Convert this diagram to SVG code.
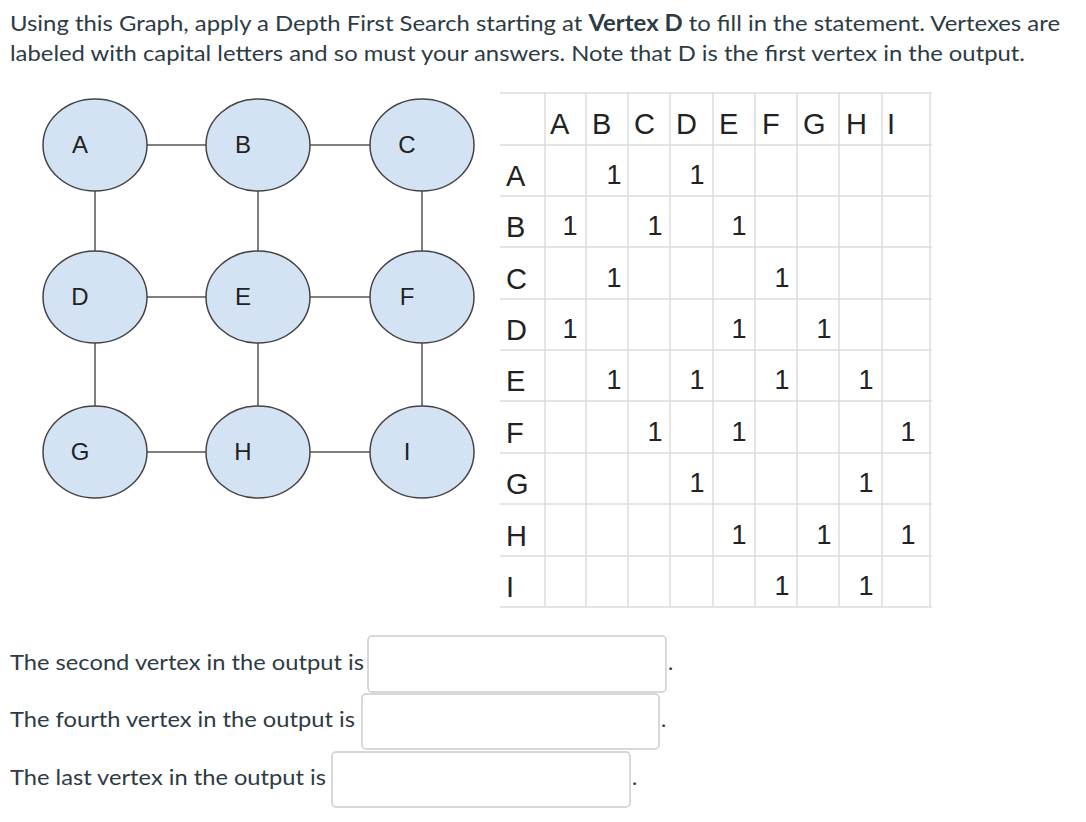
<svg xmlns="http://www.w3.org/2000/svg" width="1086" height="822" viewBox="0 0 1086 822">
<style>
.t{font-family:Lato,"Open Sans",sans-serif;font-size:22px;fill:#2d3b45}
.n ellipse{fill:#d4e3f4;stroke:#444;stroke-width:1.5}
.nl{font-family:"Liberation Sans",Arial,sans-serif;font-size:24px;fill:#222;text-anchor:middle}
.g{stroke:#ddd;stroke-width:1.5}
.h{font-family:"Liberation Sans",Arial,sans-serif;font-size:29px;fill:#222}
.c{font-family:"Liberation Sans",Arial,sans-serif;font-size:27px;fill:#222;text-anchor:middle}
.box{fill:#fff;stroke:#c7cdd1;stroke-width:1.5}
</style>
<rect width="1086" height="822" fill="#fff"/>
<text class="t" x="10" y="31" textLength="1050" lengthAdjust="spacingAndGlyphs">Using this Graph, apply a Depth First Search starting at <tspan font-weight="bold">Vertex D</tspan> to fill in the statement. Vertexes are</text>
<text class="t" x="10" y="61" textLength="1015" lengthAdjust="spacingAndGlyphs">labeled with capital letters and so must your answers. Note that D is the first vertex in the output.</text>
<g id="connectors" stroke="#555" stroke-width="1.5">
<line x1="95" y1="145" x2="422" y2="145"/><line x1="95" y1="297" x2="422" y2="297"/><line x1="95" y1="452" x2="422" y2="452"/>
<line x1="95" y1="145" x2="95" y2="452"/><line x1="258" y1="145" x2="258" y2="452"/><line x1="422" y1="145" x2="422" y2="452"/>
</g>
<g id="A" class="n"><ellipse cx="95" cy="145" rx="52" ry="46"/><text class="nl" x="80" y="153">A</text></g>
<g id="B" class="n"><ellipse cx="258" cy="145" rx="52" ry="46"/><text class="nl" x="243" y="153">B</text></g>
<g id="C" class="n"><ellipse cx="422" cy="145" rx="52" ry="46"/><text class="nl" x="407" y="153">C</text></g>
<g id="D" class="n"><ellipse cx="95" cy="297" rx="52" ry="46"/><text class="nl" x="80" y="305">D</text></g>
<g id="E" class="n"><ellipse cx="258" cy="297" rx="52" ry="46"/><text class="nl" x="243" y="305">E</text></g>
<g id="F" class="n"><ellipse cx="422" cy="297" rx="52" ry="46"/><text class="nl" x="407" y="305">F</text></g>
<g id="G" class="n"><ellipse cx="95" cy="452" rx="52" ry="46"/><text class="nl" x="80" y="460">G</text></g>
<g id="H" class="n"><ellipse cx="258" cy="452" rx="52" ry="46"/><text class="nl" x="243" y="460">H</text></g>
<g id="I" class="n"><ellipse cx="422" cy="452" rx="52" ry="46"/><text class="nl" x="407" y="460">I</text></g>
<g id="table">
<g class="g">
<line x1="500" y1="93" x2="932" y2="93"/><line x1="500" y1="145" x2="932" y2="145"/><line x1="500" y1="196" x2="932" y2="196"/><line x1="500" y1="247" x2="932" y2="247"/><line x1="500" y1="299" x2="932" y2="299"/><line x1="500" y1="350" x2="932" y2="350"/><line x1="500" y1="401" x2="932" y2="401"/><line x1="500" y1="453" x2="932" y2="453"/><line x1="500" y1="504" x2="932" y2="504"/><line x1="500" y1="556" x2="932" y2="556"/><line x1="500" y1="607" x2="932" y2="607"/>
<line x1="545" y1="93" x2="545" y2="607"/><line x1="586" y1="93" x2="586" y2="607"/><line x1="628" y1="93" x2="628" y2="607"/><line x1="670" y1="93" x2="670" y2="607"/><line x1="713" y1="93" x2="713" y2="607"/><line x1="755" y1="93" x2="755" y2="607"/><line x1="797" y1="93" x2="797" y2="607"/><line x1="839" y1="93" x2="839" y2="607"/><line x1="882" y1="93" x2="882" y2="607"/><line x1="930" y1="93" x2="930" y2="607"/>
</g>
<text class="h" x="550" y="134">A</text><text class="h" x="592" y="134">B</text><text class="h" x="634" y="134">C</text><text class="h" x="676" y="134">D</text><text class="h" x="719" y="134">E</text><text class="h" x="762" y="134">F</text><text class="h" x="803" y="134">G</text><text class="h" x="846" y="134">H</text><text class="h" x="887" y="134">I</text>
<text class="h" x="506" y="186">A</text><text class="h" x="506" y="237">B</text><text class="h" x="506" y="289">C</text><text class="h" x="506" y="340">D</text><text class="h" x="506" y="391">E</text><text class="h" x="506" y="443">F</text><text class="h" x="506" y="494">G</text><text class="h" x="506" y="546">H</text><text class="h" x="506" y="597">I</text>
<g class="c">
<text x="614" y="184">1</text><text x="697" y="184">1</text>
<text x="570" y="235">1</text><text x="655" y="235">1</text><text x="739" y="235">1</text>
<text x="614" y="287">1</text><text x="782" y="287">1</text>
<text x="570" y="338">1</text><text x="739" y="338">1</text><text x="824" y="338">1</text>
<text x="614" y="389">1</text><text x="697" y="389">1</text><text x="782" y="389">1</text><text x="866" y="389">1</text>
<text x="655" y="441">1</text><text x="739" y="441">1</text><text x="908" y="441">1</text>
<text x="697" y="492">1</text><text x="866" y="492">1</text>
<text x="739" y="544">1</text><text x="824" y="544">1</text><text x="908" y="544">1</text>
<text x="782" y="595">1</text><text x="866" y="595">1</text>
</g>
</g>
<text class="t" x="10" y="670" textLength="354" lengthAdjust="spacingAndGlyphs">The second vertex in the output is</text>
<rect class="box" x="368" y="636" width="298" height="56" rx="4"/><text class="t" x="668" y="670">.</text>
<text class="t" x="10" y="727" textLength="345" lengthAdjust="spacingAndGlyphs">The fourth vertex in the output is</text>
<rect class="box" x="362" y="694" width="297" height="55" rx="4"/><text class="t" x="661" y="727">.</text>
<text class="t" x="10" y="785" textLength="316" lengthAdjust="spacingAndGlyphs">The last vertex in the output is</text>
<rect class="box" x="332" y="752" width="298" height="55" rx="4"/><text class="t" x="632" y="785">.</text>
</svg>
